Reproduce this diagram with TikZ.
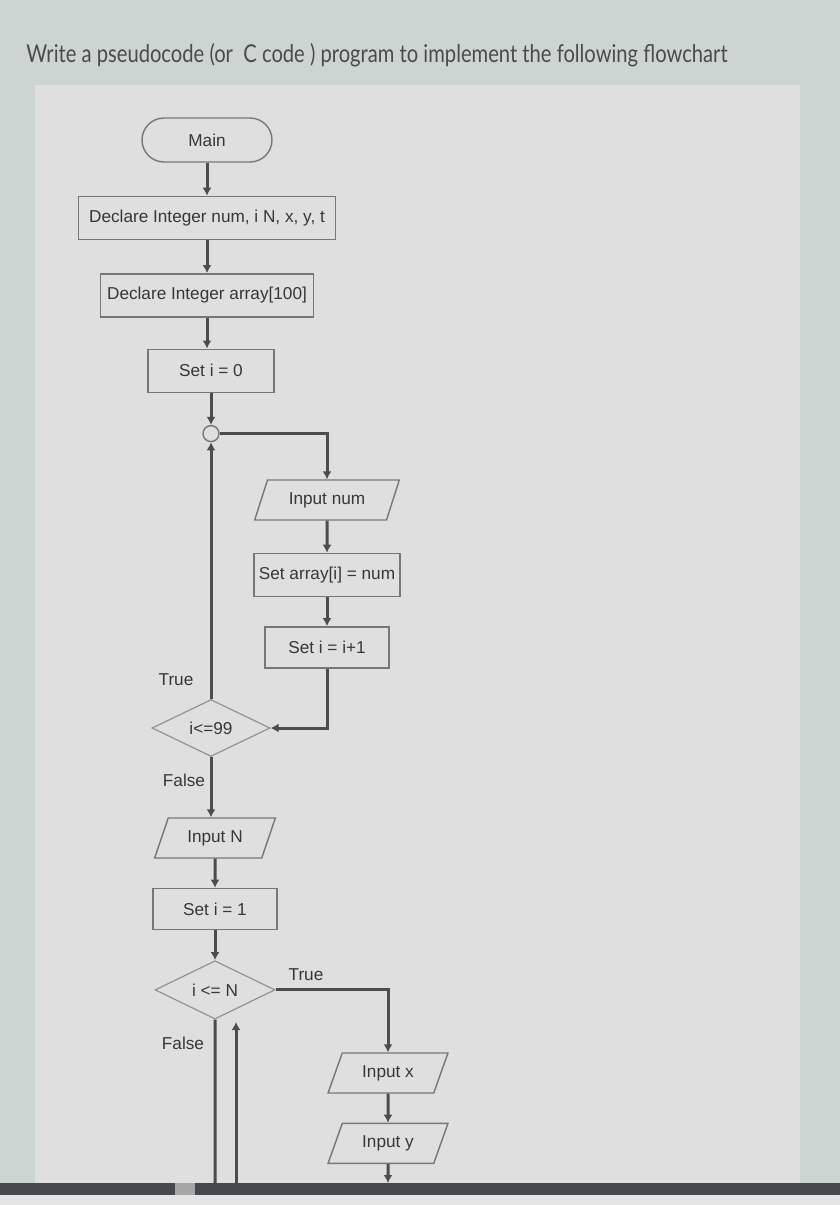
\documentclass[tikz,border=0pt]{standalone}
\usepackage{fontspec}
\setmainfont{Liberation Sans}
\newfontfamily\titlefont[FakeStretch=0.82]{Lato}
\usepackage{xcolor}
\usepackage{tikz}
\usetikzlibrary{arrows.meta,positioning,shapes.geometric}

\definecolor{pagebg}{HTML}{CDD5D2}
\definecolor{panelbg}{HTML}{DEDFDE}
\definecolor{linecol}{HTML}{4A4C4E}
\definecolor{edgecol}{HTML}{767878}
\definecolor{txtcol}{HTML}{363838}
\definecolor{barcol}{HTML}{46494B}

\begin{document}
\begin{tikzpicture}[
    x=0.5pt, y=-0.5pt,
    font=\fontsize{8.6}{10}\selectfont, text=txtcol,
    box/.style={draw=edgecol, line width=0.7pt, fill=panelbg, minimum height=21.5pt, align=center, inner sep=2pt},
    term/.style={box, rounded corners=11pt, minimum width=65pt, minimum height=22pt},
    io/.style={trapezium, trapezium left angle=66, trapezium right angle=114, trapezium stretches=true,
               draw=edgecol, line width=0.7pt, fill=panelbg, minimum height=20pt, inner sep=1pt},
    decision/.style={diamond, draw=edgecol!80, line width=0.6pt, fill=panelbg, inner sep=0pt, minimum width=59pt, minimum height=28.5pt},
    junction/.style={circle, draw=edgecol, line width=0.7pt, fill=panelbg, minimum size=8pt, inner sep=0pt},
    arr/.style={-{Latex[length=4pt,width=4.5pt]}, draw=linecol, line width=1.5pt},
    plain/.style={draw=linecol, line width=1.5pt},
    lbl/.style={text=txtcol, inner sep=0pt}
]
\fill[pagebg] (0,0) rectangle (840,1205);
\useasboundingbox (0,0) rectangle (840,1205);
\fill[panelbg] (35,85) rectangle (800,1183);
\fill[barcol] (0,1183) rectangle (840,1195);
\fill[gray!70] (175,1183) rectangle (195,1195);
\fill[panelbg!80!white] (0,1195) rectangle (840,1205);

\node[anchor=west, inner sep=0pt, font=\titlefont\fontsize{12.3}{14}\selectfont, text=txtcol!90] (title) at (26,55)
  {Write a pseudocode (or \ C code ) program to implement the following flowchart};

\node[term] (main) at (207,140) {Main};
\node[box, minimum width=128.5pt, below=16.5pt of main] (declvars) {Declare Integer num, i N, x, y, t};
\node[box, minimum width=106.5pt, below=16.5pt of declvars] (declarr) {Declare Integer array[100]};
\node[box, minimum width=63pt, below=15.5pt of declarr, xshift=2pt] (seti0) {Set i = 0};
\node[junction, below=16pt of seti0] (junc) {};

\node[io, minimum width=72.5pt] (innum) at (327,500) {Input num};
\node[box, minimum width=73pt, below=16pt of innum] (setarr) {Set array[i] = num};
\node[box, minimum width=62pt, minimum height=20.5pt, below=14.5pt of setarr] (incr) {Set i = i+1};

\node[decision] (cond1) at (211,728) {i<=99};

\node[io, minimum width=60.5pt] (inN) at (215,838) {Input N};
\node[box, minimum width=62pt, minimum height=20.5pt, below=14.5pt of inN] (seti1) {Set i = 1};
\node[decision, minimum width=60pt, minimum height=29pt, below=15pt of seti1] (cond2) {i <= N};

\node[io, minimum width=60pt] (inx) at (388,1073) {Input x};
\node[io, minimum width=60pt, below=14.5pt of inx] (iny) {Input y};

\node[lbl] (true1) at (176,680) {True};
\node[lbl] (false1) at (184,780) {False};
\node[lbl] (true2) at (306,975) {True};
\node[lbl] (false2) at (183,1043) {False};

\coordinate (out1) at (215,1183);
\coordinate (back1) at (236,1183);
\coordinate (back2) at (236,1022);
\coordinate (out2) at (388,1183);

\draw[arr] (main) -- (declvars);
\draw[arr] (declvars) -- (declarr);
\draw[arr] (declarr) -- (declarr |- seti0.north);
\draw[arr] (seti0) -- (junc);
\draw[arr] (junc.east) -| (innum.north);
\draw[arr] (innum) -- (setarr);
\draw[arr] (setarr) -- (incr);
\draw[arr] (incr.south) |- (cond1.east);
\draw[arr] (cond1.north) -- (junc.south);
\draw[arr] (cond1.south) -- (cond1.south |- inN.north);
\draw[arr] (inN) -- (seti1);
\draw[arr] (seti1) -- (cond2);
\draw[arr] (cond2.east) -| (inx.north);
\draw[arr] (inx) -- (iny);
\draw[arr] (iny) -- (out2);
\draw[plain] (cond2.south) -- (out1);
\draw[arr] (back1) -- (back2);
\end{tikzpicture}
\end{document}
